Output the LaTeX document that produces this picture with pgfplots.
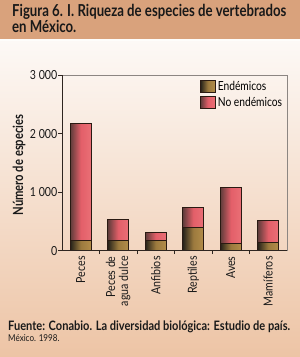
\documentclass[border=0pt]{standalone}
\usepackage{pgfplots}
\pgfplotsset{compat=1.18}
\usepackage{fontspec}
\setmainfont{Lato}
\newfontfamily\cf[FakeStretch=0.85]{Lato}
\newfontfamily\lf[FakeStretch=0.82]{Lato}
\newfontfamily\tf[FakeStretch=0.80]{Lato}
\newfontfamily\ff[FakeStretch=0.85]{Lato}
\definecolor{band}{HTML}{D9A27C}
\definecolor{bgtop}{HTML}{FDF9F6}
\definecolor{bgbot}{HTML}{EDC4A5}
\definecolor{endL}{HTML}{26221A}
\definecolor{endR}{HTML}{B38D4A}
\definecolor{endM}{HTML}{9C7A3E}
\definecolor{noL}{HTML}{5E3C3A}
\definecolor{noM}{HTML}{E35F69}
\definecolor{noR}{HTML}{EA6F76}
\definecolor{barline}{HTML}{2A1A12}
\definecolor{frame}{HTML}{8C8682}
\definecolor{axisdark}{HTML}{2E2520}
\begin{document}
\begin{tikzpicture}
\useasboundingbox (0,0) rectangle (300pt,357pt);
\shade[top color=bgtop, bottom color=bgbot] (0,0) rectangle (300pt,316pt);
\fill[band] (0,318pt) rectangle (300pt,357pt);
\fill[white!60!bgtop] (0,316pt) rectangle (300pt,318pt);
\node[anchor=base west, inner sep=0, text=black!90] at (12pt,340pt) {\tf\bfseries\fontsize{16.5}{18}\selectfont Figura 6. I. Riqueza de especies de vertebrados};
\node[anchor=base west, inner sep=0, text=black!90] at (12pt,324.3pt) {\tf\bfseries\fontsize{16.5}{18}\selectfont en México.};
\node[anchor=base west, inner sep=0, text=black!90] at (8pt,27pt) {\ff\bfseries\fontsize{13}{14}\selectfont Fuente: Conabio. La diversidad biológica: Estudio de país.};
\node[anchor=base west, inner sep=0, text=black!90] at (8pt,15.3pt) {\cf\fontsize{9.5}{11}\selectfont México. 1998.};
\node[rotate=90, inner sep=0, text=black!90] at (19pt,192pt) {\tf\bfseries\fontsize{14}{15}\selectfont Número de especies};
\begin{axis}[
  at={(62pt,106.3pt)}, anchor=south west, scale only axis,
  width=225pt, height=175.7pt,
  ybar, bar width=21pt, bar shift=0pt,
  xmin=-0.5, xmax=5.5, ymin=0, ymax=3000,
  xtick={0,1,2,3,4,5},
  xticklabels={Peces,{Peces de\\agua dulce},Anfibios,Reptiles,Aves,Mamíferos},
  major x tick style={draw=none},
  minor xtick={0.5,1.5,2.5,3.5,4.5},
  minor tick length=3.5pt,
  major tick length=3.5pt,
  tick align=outside,
  tick pos=left,
  tick style={draw=axisdark, line width=0.8pt},
  ytick={0,1000,2000,3000},
  yticklabels={0,1 000,2 000,3 000},
  yticklabel style={font=\cf\fontsize{12.5}{14}\selectfont, inner sep=1pt, text=black!90},
  xticklabel style={font=\cf\fontsize{12.5}{13}\selectfont, rotate=90, anchor=east, align=right, inner sep=2pt, text=black!90},
  axis line style={draw=frame, line width=0.8pt},
  legend image code/.code={\draw[#1, line width=0.7pt] (0pt,-6pt) rectangle (15pt,6.5pt);},
  legend style={draw=none, fill=none, at={(rel axis cs:0.613,0.977)}, anchor=north west,
    font=\lf\fontsize{12.5}{14}\selectfont, row sep=1.5pt, inner sep=0pt, cells={anchor=west}},
  tot/.style={draw=barline, line width=1pt, left color=noL, right color=noR, middle color=noM, forget plot},
  endm/.style={draw=barline, line width=1pt, left color=endL, right color=endR, middle color=endM, forget plot},
]
% totals (endemic + non-endemic)
\addplot[tot] coordinates {(0,2165)};
\addplot[tot] coordinates {(1,538)};
\addplot[tot] coordinates {(2,306)};
\addplot[tot] coordinates {(3,743)};
\addplot[tot] coordinates {(4,1079)};
\addplot[tot] coordinates {(5,521)};
% endemic
\addplot[endm] coordinates {(0,180)};
\addplot[endm] coordinates {(1,180)};
\addplot[endm] coordinates {(2,180)};
\addplot[endm] coordinates {(3,396)};
\addplot[endm] coordinates {(4,123)};
\addplot[endm] coordinates {(5,145)};
\addlegendimage{endm}
\addlegendentry{Endémicos}
\addlegendimage{tot}
\addlegendentry{No endémicos}
\draw[axisdark, line width=0.9pt] (rel axis cs:0,0) -- (rel axis cs:0,1);
\draw[axisdark, line width=0.9pt] (rel axis cs:0,0) -- (rel axis cs:1,0);
\end{axis}
\end{tikzpicture}
\end{document}
